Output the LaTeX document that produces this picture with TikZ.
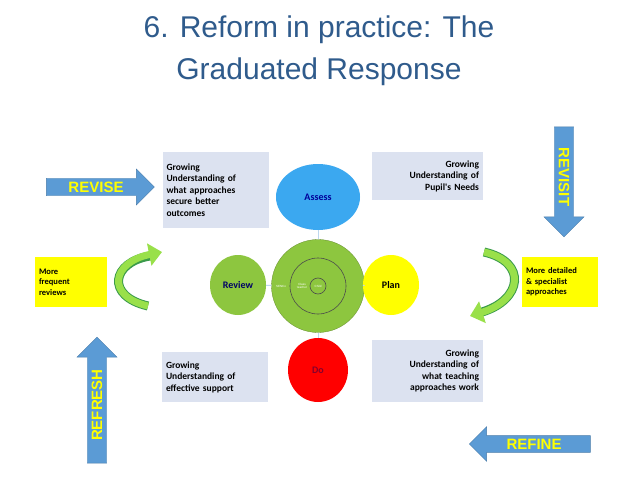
\documentclass[tikz,border=0pt]{standalone}
\usepackage{fontspec}
\setmainfont{Liberation Sans}
\newfontfamily\carl{Carlito}
\usetikzlibrary{shapes.arrows,shapes.geometric,arrows.meta}
\definecolor{ttl}{HTML}{2F5B8C}
\definecolor{abl}{HTML}{5B9BD5}
\definecolor{asc}{HTML}{3BA8F0}
\definecolor{bx}{HTML}{DCE2F0}
\definecolor{ylw}{HTML}{FFFF00}
\definecolor{grn}{HTML}{8DC63F}
\definecolor{lgr}{HTML}{99E04A}
\definecolor{dgr}{HTML}{3A9A4A}
\begin{document}
\begin{tikzpicture}[x=1pt,y=-1pt,
  txtbox/.style={fill=bx,inner sep=4pt,font=\carl\bfseries\fontsize{9.5}{11.5}\selectfont},
  ybox/.style={fill=ylw,inner sep=3pt,font=\carl\bfseries\fontsize{8.5}{10.5}\selectfont,align=left,minimum width=72pt,minimum height=50pt,text width=64pt},
  bigarrow/.style={single arrow,draw=abl!80!black,fill=abl,single arrow head extend=9pt,inner sep=3pt,font=\bfseries\fontsize{15}{15}\selectfont,text=ylw},
  stage/.style={ellipse,font=\carl\bfseries\fontsize{10}{11}\selectfont},
  link/.style={draw=abl!40,line width=1pt},
  curv/.style={line width=7pt,draw=lgr,-{Triangle[length=13pt,width=22pt,fill=lgr]}}]
\useasboundingbox (0,0) rectangle (638,479);
\fill[white] (0,0) rectangle (638,479);
\node[text=ttl,font=\fontsize{30}{42}\selectfont,align=center] (title) at (319,51) {6. Reform in practice: The\\Graduated Response};
% boxes
\node[txtbox,align=left,text width=98pt,minimum height=76pt] (b1) at (215.5,190) {Growing\\Understanding of\\what approaches\\secure better\\outcomes};
\node[txtbox,align=right,text width=103pt,minimum height=48pt] (b2) at (427.5,176) {Growing\\Understanding of\\Pupil's Needs};
\node[txtbox,align=left,text width=98pt,minimum height=50pt] (b3) at (215,377) {Growing\\Understanding of\\effective support};
\node[txtbox,align=right,text width=103pt,minimum height=62pt] (b4) at (427.5,371) {Growing\\Understanding of\\what teaching\\approaches work};
\node[ybox] (y1) at (71,282) {More\\frequent\\reviews};
\node[ybox,text width=68pt,minimum width=76pt] (y2) at (560,282) {More detailed\\\& specialist\\approaches};
% arrows
\node[bigarrow,minimum height=108pt,minimum width=36pt] (revise) at (96,187) {REVISE};
\node[bigarrow,shape border rotate=270,minimum height=110pt,minimum width=40pt] (revisit) at (564,177) {\rotatebox{-90}{REVISIT}};
\node[bigarrow,shape border rotate=90,minimum height=126pt,minimum width=40pt] (refresh) at (97,405) {\rotatebox{90}{REFRESH}};
\node[bigarrow,shape border rotate=180,minimum height=121pt,minimum width=34pt] (refine) at (534,444) {REFINE};
% circles
\node[circle,fill=grn,draw=grn!70!black,line width=0.3pt,minimum size=93pt] (core) at (318,286) {};
\node[circle,draw=black!70,line width=0.6pt,minimum size=56pt] (inner) at (318,286) {};
\node[circle,draw=black!70,line width=0.6pt,minimum size=16pt,inner sep=0pt,font=\fontsize{3}{3}\selectfont,text=white] (child) at (318,286) {Child};
\node[font=\fontsize{3}{3.5}\selectfont,text=white,align=center] (ct) at (302,286) {Class\\teacher};
\node[font=\fontsize{3}{3}\selectfont,text=white] (senco) at (281,286) {SENCo};
\node[stage,fill=asc,minimum width=84pt,minimum height=66pt,text=blue!60!black] (assess) at (318,197) {Assess};
\node[stage,fill=grn,minimum width=56pt,minimum height=60pt,text=blue!40!black] (review) at (238,285) {Review};
\node[stage,fill=ylw,minimum width=56pt,minimum height=60pt,text=black] (plan) at (391,285) {Plan};
\node[stage,fill=red,minimum width=60pt,minimum height=64pt,text=purple!70!black] (do) at (318,370) {Do};
\draw[link] (assess) -- (core);
\draw[link] (do) -- (core);
\draw[link] (review) -- (core);
\draw[link] (plan) -- (core);
% curved arrows
\coordinate (l1) at (148,306);
\coordinate (l2) at (162,252);
\draw[line width=9pt,draw=dgr] (l1) .. controls (105,296) and (112,262) .. (150,256);
\draw[curv] (l1) .. controls (105,296) and (112,262) .. (l2);
\coordinate (r1) at (484,252);
\coordinate (r2) at (470,316);
\draw[line width=9pt,draw=dgr] (r1) .. controls (528,262) and (522,300) .. (482,312);
\draw[curv] (r1) .. controls (528,262) and (522,300) .. (r2);
\end{tikzpicture}
\end{document}
